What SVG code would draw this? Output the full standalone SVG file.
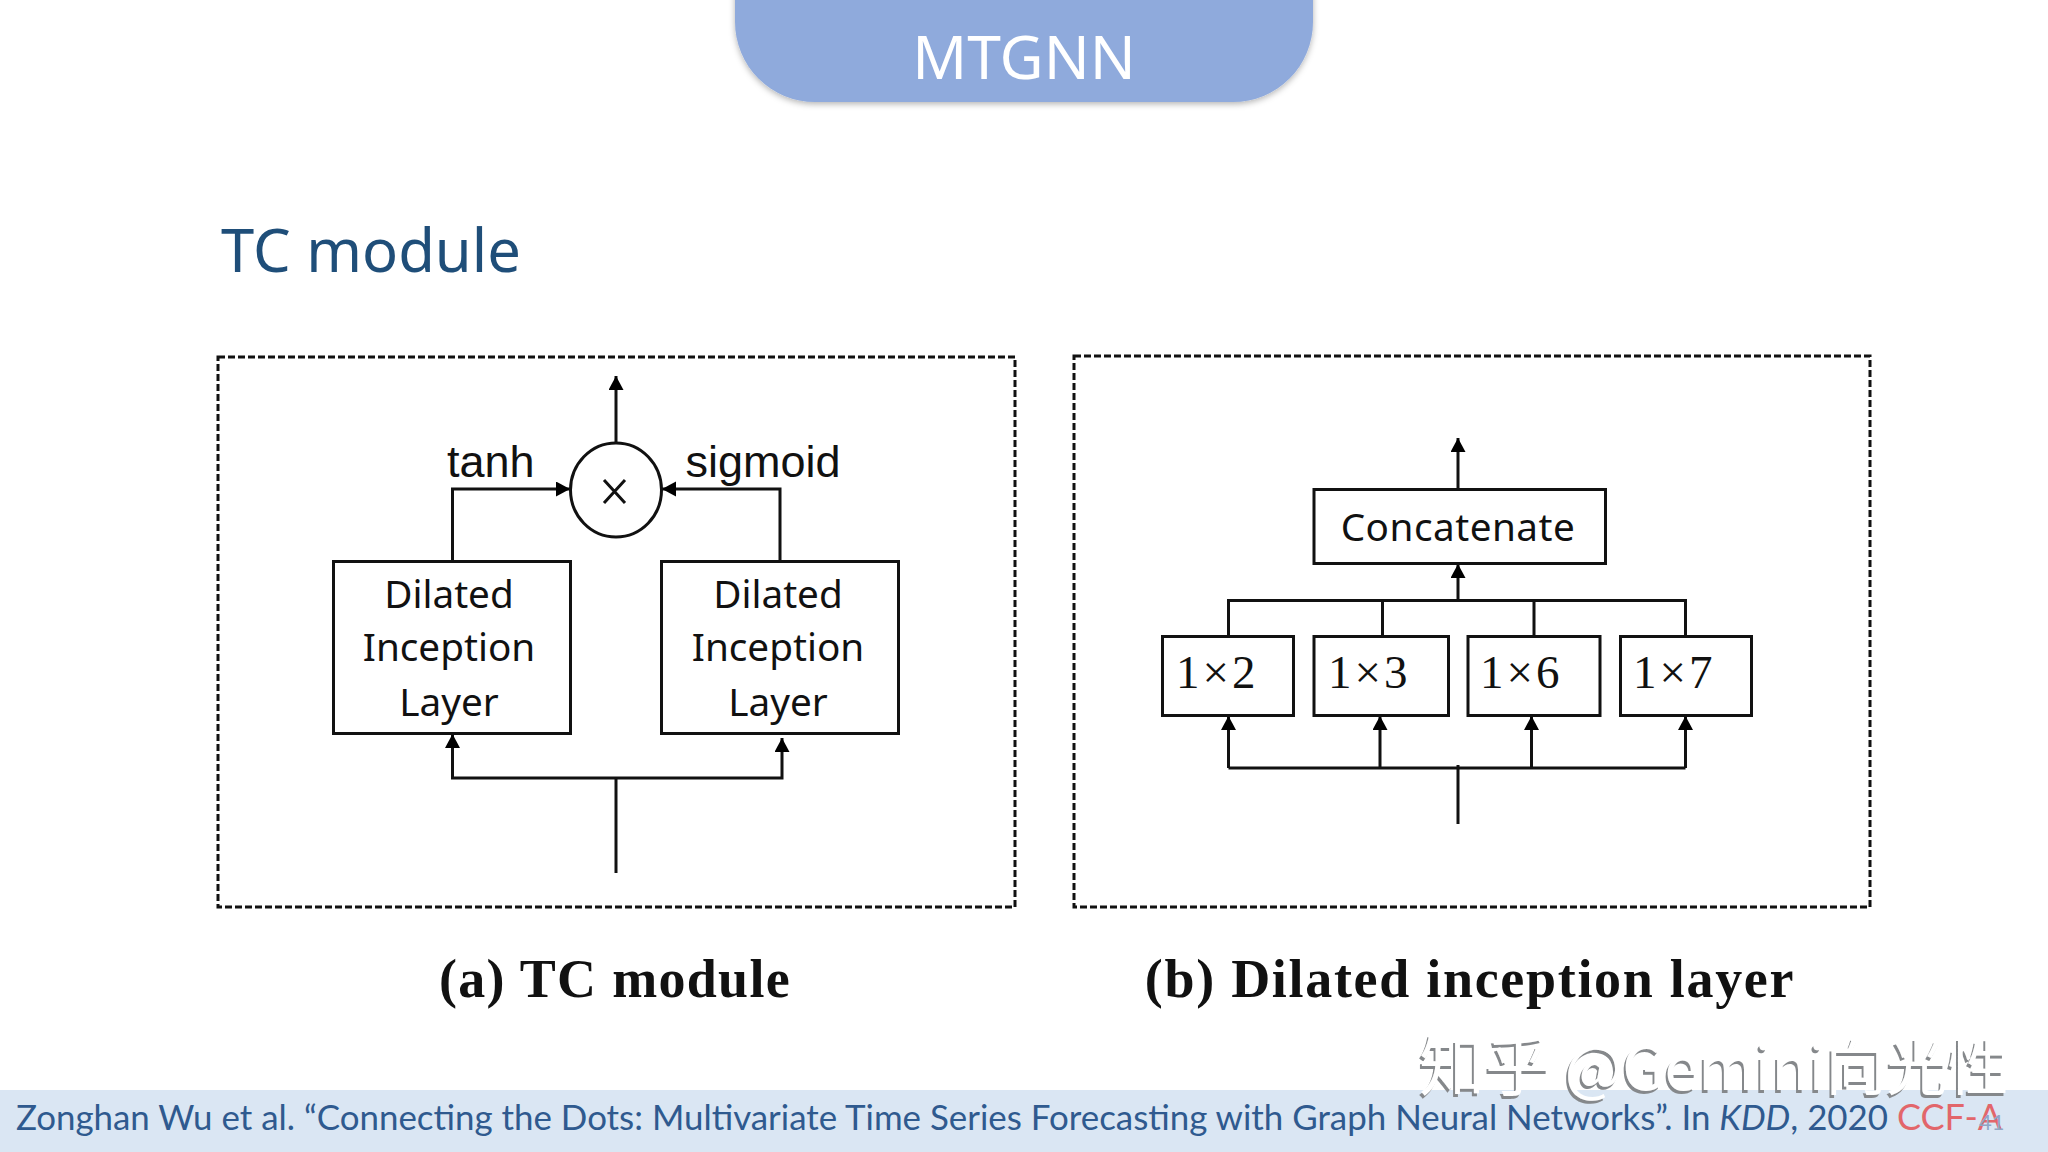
<svg xmlns="http://www.w3.org/2000/svg" width="2048" height="1152" viewBox="0 0 2048 1152">
<style>
.panel{fill:none;stroke:#111;stroke-width:3;stroke-dasharray:7 3}
.box{fill:#fff;stroke:#111;stroke-width:3}
.wire{fill:none;stroke:#111;stroke-width:3}
.ar{fill:#000}
.lbl{font-family:"Noto Sans","Open Sans",sans-serif;font-size:38.700px;fill:#111;text-anchor:middle}
.ari{font-family:"Liberation Sans",Arial,sans-serif;font-size:45px;fill:#111}
.num{font-family:"Liberation Serif",serif;font-size:47px;fill:#111;letter-spacing:3px}
.cap{font-family:"Liberation Serif",serif;font-weight:bold;font-size:54px;fill:#111;text-anchor:middle}
.foot{font-family:Lato,"Noto Sans",sans-serif;font-size:34.900px;fill:#2f5a8f}
</style>
<defs>
<marker id="arrow" markerUnits="userSpaceOnUse" markerWidth="16" markerHeight="16" refX="14" refY="7.500" orient="auto"><path d="M0 0L14 7.500L0 15Z" class="ar"/></marker>
<filter id="tabshadow" x="-10%" y="-20%" width="120%" height="150%"><feDropShadow dx="0" dy="2" stdDeviation="3" flood-color="#000" flood-opacity=".3"/></filter>
<filter id="wm" x="-5%" y="-20%" width="110%" height="140%"><feDropShadow dx="-2" dy="3" stdDeviation=".5" flood-color="#85888b" flood-opacity="1"/></filter>
</defs>
<rect width="2048" height="1152" fill="#fff"/>

<g id="header">
<path d="M735 -20H1313V22A80 80 0 0 1 1233 102H815A80 80 0 0 1 735 22Z" fill="#8faadc" filter="url(#tabshadow)"/>
<text x="1024" y="79" text-anchor="middle" font-family="'Noto Sans',sans-serif" font-size="60.600" fill="#fff">MTGNN</text>
</g>
<text id="title" x="221" y="272" font-family="'Noto Sans',sans-serif" font-size="59.700" fill="#1f4e79">TC module</text>

<g id="panels">
<rect class="panel" x="218" y="357" width="797" height="550"/>
<rect class="panel" x="1074" y="356" width="796" height="551"/>
</g>

<g id="connectors">
<path class="wire" d="M616 443V376" marker-end="url(#arrow)"/>
<path class="wire" d="M452.500 561V489H570" marker-end="url(#arrow)"/>
<path class="wire" d="M780 561V489H662" marker-end="url(#arrow)"/>
<path class="wire" d="M616 778H452.500V734" marker-end="url(#arrow)"/>
<path class="wire" d="M616 778H782V738" marker-end="url(#arrow)"/>
<path class="wire" d="M616 873V778"/>
<path class="wire" d="M1458 489V438" marker-end="url(#arrow)"/>
<path class="wire" d="M1458 600.500V564" marker-end="url(#arrow)"/>
<path class="wire" d="M1228.500 636V600.500H1685.500V636M1382.500 600.500V636M1534 600.500V636"/>
<path class="wire" d="M1228.500 768V716" marker-end="url(#arrow)"/>
<path class="wire" d="M1380 768V716" marker-end="url(#arrow)"/>
<path class="wire" d="M1531.500 768V716" marker-end="url(#arrow)"/>
<path class="wire" d="M1685.500 768V716" marker-end="url(#arrow)"/>
<path class="wire" d="M1228.500 768H1685.500M1458 765V824"/>
</g>

<g id="mult">
<ellipse class="box" cx="616" cy="490" rx="45.500" ry="47"/>
<path class="wire" d="M604 480L625 503M625 480L604 503"/>
</g>
<g id="tanh-label"><text class="ari" x="447" y="477">tanh</text></g>
<g id="sigmoid-label"><text class="ari" x="685.500" y="477">sigmoid</text></g>
<g id="dil-left">
<rect class="box" x="333.500" y="561.500" width="237" height="172"/>
<text class="lbl" x="449" y="607.500">Dilated</text>
<text class="lbl" x="449" y="661">Inception</text>
<text class="lbl" x="449" y="716">Layer</text>
</g>
<g id="dil-right">
<rect class="box" x="661.500" y="561.500" width="237" height="172"/>
<text class="lbl" x="778" y="607.500">Dilated</text>
<text class="lbl" x="778" y="661">Inception</text>
<text class="lbl" x="778" y="716">Layer</text>
</g>
<g id="concat">
<rect class="box" x="1314" y="489.500" width="291.500" height="74"/>
<text class="lbl" x="1458" y="541" letter-spacing=".5">Concatenate</text>
</g>
<g id="k2"><rect class="box" x="1162.500" y="636.500" width="131" height="79"/><text class="num" x="1176" y="688">1×2</text></g>
<g id="k3"><rect class="box" x="1314" y="636.500" width="134.500" height="79"/><text class="num" x="1328" y="688">1×3</text></g>
<g id="k6"><rect class="box" x="1468" y="636.500" width="132" height="79"/><text class="num" x="1480" y="688">1×6</text></g>
<g id="k7"><rect class="box" x="1620.500" y="636.500" width="131" height="79"/><text class="num" x="1633" y="688">1×7</text></g>

<text id="cap-a" class="cap" x="615" y="997" letter-spacing="1.300">(a) TC module</text>
<text id="cap-b" class="cap" x="1470" y="997" letter-spacing="1.700">(b) Dilated inception layer</text>

<g id="footer">
<rect y="1090" width="2048" height="62" fill="#dae6f3"/>
<text class="foot" x="16" y="1130">Zonghan Wu et al. “Connecting the Dots: Multivariate Time Series Forecasting with Graph Neural Networks”. In <tspan font-style="italic">KDD</tspan>, 2020 <tspan fill="#e2666b" font-size="36">CCF-A</tspan></text>
<text x="1979" y="1130" font-family="Lato,sans-serif" font-size="22" fill="#8fa6c6">41</text>
</g>
<text id="watermark" x="1419" y="1090" font-family="'Noto Sans CJK SC','Noto Sans',sans-serif" font-size="61" fill="#fff" filter="url(#wm)"><tspan font-size="66">知乎</tspan> @Gemini向光性</text>
</svg>
